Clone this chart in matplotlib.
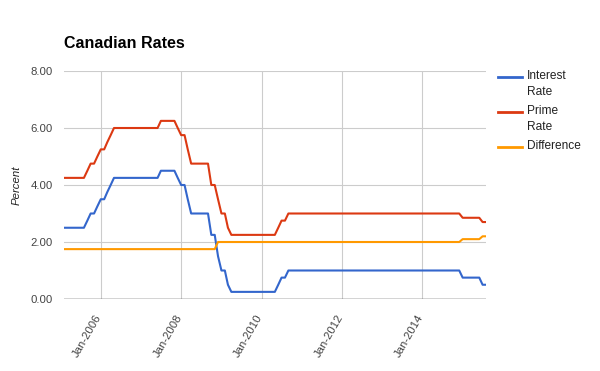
import matplotlib
matplotlib.use('Agg')
import matplotlib.pyplot as plt
import matplotlib.dates as mdates
import matplotlib.transforms as mtransforms
from matplotlib.lines import Line2D
import pandas as pd

plt.rcParams['font.family'] = ['Liberation Sans', 'DejaVu Sans']

# Monthly values, Feb 2005 .. Aug 2015
months = pd.date_range('2005-02-01', periods=127, freq='MS')

interest_rate = ([2.50] * 7
                 + [2.75, 3.00, 3.00, 3.25, 3.50, 3.50, 3.75, 4.00]
                 + [4.25] * 14
                 + [4.50] * 5
                 + [4.25, 4.00, 4.00, 3.50]
                 + [3.00] * 6
                 + [2.25, 2.25, 1.50, 1.00, 1.00, 0.50]
                 + [0.25] * 14
                 + [0.50, 0.75, 0.75]
                 + [1.00] * 52
                 + [0.75] * 6
                 + [0.50] * 2)

prime_rate = ([4.25] * 7
              + [4.50, 4.75, 4.75, 5.00, 5.25, 5.25, 5.50, 5.75]
              + [6.00] * 14
              + [6.25] * 5
              + [6.00, 5.75, 5.75, 5.25]
              + [4.75] * 6
              + [4.00, 4.00, 3.50, 3.00, 3.00, 2.50]
              + [2.25] * 14
              + [2.50, 2.75, 2.75]
              + [3.00] * 52
              + [2.85] * 6
              + [2.70] * 2)

difference = [p - r for p, r in zip(prime_rate, interest_rate)]

series_names = ['Interest\nRate', 'Prime\nRate', 'Difference']
series_colors = ['#3366cc', '#dc3912', '#ff9900']
y_ticks = [0, 2, 4, 6, 8]
tick_years = [2006, 2008, 2010, 2012, 2014]

fig = plt.figure(figsize=(6, 3.71), dpi=100)
ax = fig.add_axes([64 / 600, 1 - 299 / 371, 422 / 600, 228 / 371])

for vals, col in zip([interest_rate, prime_rate, difference], series_colors):
    ax.plot(months, vals, color=col, linewidth=1.5, solid_joinstyle='round')

ax.set_xlim(months[0], months[-1])
ax.set_ylim(0, 8)

# grid
ax.set_yticks(y_ticks)
ax.set_yticklabels(['%.2f' % v for v in y_ticks])
xt = [pd.Timestamp('%d-01-01' % y) for y in tick_years]
ax.set_xticks(xt)
ax.xaxis.set_major_formatter(mdates.DateFormatter('%b-%Y'))
ax.grid(True, color='#cccccc', linewidth=0.8)
ax.set_axisbelow(True)
ax.axhline(0, color='#333333', linewidth=1.0, zorder=1.5)

for s in ax.spines.values():
    s.set_visible(False)
ax.tick_params(length=0, labelsize=8.2, colors='#444444')
ax.tick_params(axis='y', pad=8)
ax.tick_params(axis='x', pad=10)
shift = mtransforms.ScaledTranslation(3 / 100, 0, fig.dpi_scale_trans)
for lbl in ax.get_xticklabels():
    lbl.set_rotation(60)
    lbl.set_ha('right')
    lbl.set_transform(lbl.get_transform() + shift)

ax.set_ylabel('Percent', fontsize=8.2, style='italic', color='#222222')
ax.yaxis.set_label_coords(-(64 - 22) / 422, 0.5)

fig.text(64 / 600, 1 - 48 / 371, 'Canadian Rates', fontsize=11.5, fontweight='bold',
         ha='left', va='baseline')

# legend drawn by hand so the swatch sits on the first text line
for i, (name, col) in enumerate(zip(series_names, series_colors)):
    y = 1 - (77 + 35 * i) / 371
    fig.add_artist(Line2D([498 / 600, 522 / 600], [y, y], color=col, linewidth=2))
    fig.text(527 / 600, y + 7 / 371, name, fontsize=8.6, color='#222222',
             ha='left', va='top', linespacing=1.45)

fig.savefig('out.png', dpi=100)
